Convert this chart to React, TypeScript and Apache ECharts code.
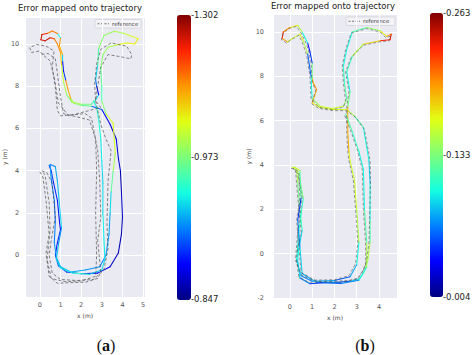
import React, { useEffect, useRef } from 'react';
import * as echarts from 'echarts';

const titleText = 'Error mapped onto trajectory';
const legendText = 'reference';
const xName = 'x (m)';
const yName = 'y (m)';
const panelLetters = ['a', 'b'];
const cbTicksA = ['-1.302', '-0.973', '-0.847'];
const cbTicksB = ['-0.263', '-0.133', '-0.004'];
const errRangeA = [0.847, 1.302];
const errRangeB = [0.004, 0.263];
const xRangeA = [-0.71, 5.09];
const yRangeA = [-1.98, 11.28];
const xRangeB = [-0.76, 4.81];
const yRangeB = [-2.05, 10.81];

// reference trajectory, panel (a)
const refA = [
  [0.0, 3.95], [0.15, 3.7], [0.3, 2.6], [0.45, 1.0], [0.3, 0.1], [0.45, -1.0], [0.85, -1.33], [1.5, -1.3],
  [2.2, -1.28], [2.8, -1.1], [2.95, -0.8], [2.8, 0.7], [2.95, 1.8], [2.9, 3.5], [2.8, 4.95], [2.5, 6.5],
  [2.2, 6.7], [1.6, 6.65], [1.0, 6.6], [0.85, 6.85], [0.75, 7.95], [0.6, 8.9], [0.69, 9.67], [0.3, 9.9],
  [-0.17, 9.98], [-0.49, 9.83], [-0.4, 9.6], [-0.01, 9.67], [0.14, 9.5], [0.5, 9.2], [0.7, 8.4], [0.9, 7.2],
  [1.4, 6.6], [2.2, 6.8], [2.95, 7.0], [2.7, 7.3], [2.65, 8.1], [2.75, 9.05], [2.95, 9.75], [3.45, 10.05],
  [4.2, 9.9], [4.45, 9.5], [4.4, 9.3], [3.9, 9.4], [3.3, 9.5], [2.95, 8.9], [2.8, 8.0], [2.7, 7.3],
  [2.95, 6.2], [3.2, 5.5], [3.45, 4.95], [3.3, 3.5], [3.25, 1.5], [3.3, 0.3], [3.1, -0.7], [2.6, -1.15],
  [1.8, -1.2], [1.0, -1.15], [0.6, -0.85], [0.45, 0.0], [0.6, 1.0], [0.75, 1.8], [0.6, 3.4], [0.35, 3.9],
  [0.1, 4.0], [0.25, 3.8], [0.45, 2.5], [0.5, 1.2], [0.35, -0.2], [0.55, -1.1], [1.2, -1.25], [2.0, -1.22],
  [2.7, -1.0], [2.75, 0.0], [2.7, 2.0], [2.75, 4.0], [2.7, 5.5], [2.4, 6.4], [1.8, 6.55], [1.15, 6.7],
  [1.0, 7.5], [0.85, 8.6], [0.75, 9.3], [0.4, 9.55], [0.0, 9.5]
];

// estimated trajectory, panel (a): x, y, error
const estA = [
  [0.45, 4.25, 0.93], [0.55, 4.0, 0.93], [0.65, 3.5, 0.92], [0.85, 2.6, 0.91], [0.95, 1.6, 0.9], [1.0, 1.2, 0.92],
  [0.85, 0.6, 0.91], [0.75, 0.0, 0.93], [0.9, -0.5, 0.94], [1.3, -0.8, 0.92], [2.0, -0.88, 0.91], [2.8, -0.85, 0.9],
  [3.4, -0.55, 0.88], [3.8, 0.1, 0.87], [3.95, 1.0, 0.87], [4.0, 1.8, 0.88], [3.95, 3.0, 0.87], [3.9, 4.0, 0.88],
  [3.8, 4.6, 0.89], [3.7, 5.5, 0.89], [3.4, 6.2, 0.9], [3.0, 6.9, 0.95], [2.5, 7.05, 1.06], [2.0, 7.1, 1.08],
  [1.65, 7.2, 1.1], [1.5, 7.4, 1.18], [1.35, 7.9, 1.19], [1.25, 8.3, 0.93], [1.15, 8.7, 0.91], [1.1, 9.2, 1.0],
  [1.1, 9.5, 1.18], [0.95, 9.9, 1.19], [1.0, 10.3, 1.02], [0.85, 10.5, 1.2], [0.6, 10.62, 1.2], [0.35, 10.5, 1.25],
  [0.1, 10.45, 1.27], [0.05, 10.2, 1.26], [0.25, 10.15, 1.27], [0.5, 10.3, 1.24], [0.7, 10.25, 1.2], [0.85, 10.0, 1.19],
  [1.0, 9.6, 1.17], [1.05, 9.0, 1.12], [1.15, 8.2, 1.1], [1.3, 7.6, 1.08], [1.55, 7.25, 1.1], [2.0, 7.15, 1.07],
  [2.5, 7.15, 1.05], [2.7, 7.35, 1.0], [2.85, 7.6, 0.9], [2.75, 8.0, 0.95], [2.7, 8.3, 1.0], [2.8, 9.0, 1.05],
  [2.85, 9.8, 1.08], [3.1, 10.4, 1.09], [3.6, 10.6, 1.1], [4.1, 10.5, 1.12], [4.5, 10.35, 1.13], [4.75, 10.25, 1.14],
  [4.6, 10.0, 1.14], [4.2, 10.05, 1.13], [3.7, 9.95, 1.1], [3.3, 9.85, 1.09], [3.05, 9.5, 1.08], [2.95, 8.8, 1.06],
  [3.0, 8.0, 1.04], [3.0, 7.3, 1.08], [3.2, 6.7, 1.12], [3.55, 6.25, 1.13], [3.6, 5.5, 1.12], [3.65, 4.8, 1.1],
  [3.55, 4.0, 1.06], [3.45, 3.0, 1.0], [3.4, 2.0, 0.98], [3.35, 1.0, 0.97], [3.2, 0.0, 0.96], [2.9, -0.55, 0.97],
  [2.2, -0.7, 0.98], [1.5, -0.8, 0.99], [1.0, -0.55, 0.98], [0.8, -0.1, 0.97], [0.7, 0.6, 0.96], [0.75, 1.6, 0.95],
  [0.7, 2.6, 0.96], [0.55, 3.6, 0.97], [0.5, 4.3, 0.96], [0.75, 4.2, 0.98], [0.85, 3.5, 0.99], [0.95, 2.4, 1.0],
  [1.05, 1.3, 0.97], [0.9, 0.5, 0.99], [0.8, -0.2, 1.0], [1.0, -0.6, 1.01], [1.6, -0.85, 1.03], [2.4, -0.9, 0.99],
  [3.0, -0.7, 1.0], [3.15, -0.2, 1.01], [3.1, 0.8, 1.01], [3.05, 2.0, 1.0], [3.05, 3.4, 1.0], [3.0, 4.5, 1.01],
  [2.95, 5.5, 1.02], [2.85, 6.4, 1.03], [2.75, 7.0, 1.02], [2.6, 7.3, 1.01]
];

// reference trajectory, panel (b)
const refB = [
  [0.05, 3.85], [0.25, 3.8], [0.3, 3.15], [0.4, 2.0], [0.5, 1.0], [0.35, 0.25], [0.3, -0.3], [0.4, -1.05],
  [0.85, -1.3], [1.5, -1.28], [2.1, -1.25], [2.7, -1.2], [3.05, -1.1], [3.25, -0.85], [3.45, -0.3], [3.55, 0.5],
  [3.58, 1.5], [3.62, 3.2], [3.6, 4.2], [3.35, 5.6], [2.95, 6.15], [2.55, 6.45], [1.9, 6.45], [1.3, 6.55],
  [0.98, 6.75], [1.15, 7.35], [1.02, 7.7], [0.98, 7.95], [0.95, 8.6], [0.85, 9.1], [0.75, 9.45], [0.5, 9.95],
  [0.3, 10.25], [-0.05, 10.15], [-0.3, 9.95], [-0.38, 9.65], [-0.15, 9.5], [0.05, 9.65], [0.4, 9.85], [0.55, 9.55],
  [0.75, 8.95], [0.9, 8.0], [0.95, 7.0], [1.3, 6.6], [1.9, 6.5], [2.4, 6.6], [2.5, 6.9], [2.4, 7.7],
  [2.35, 8.45], [2.5, 9.2], [2.75, 9.95], [3.45, 10.15], [4.05, 10.0], [4.3, 9.75], [4.5, 9.8], [4.45, 9.6],
  [4.0, 9.55], [3.3, 9.4], [2.75, 8.85], [2.5, 8.2], [2.65, 7.3], [2.55, 6.6], [2.55, 5.5], [2.6, 4.6],
  [2.65, 4.2], [2.85, 3.3], [2.95, 2.0], [3.05, 0.5], [2.95, -0.45], [2.65, -1.0], [2.0, -1.18], [1.0, -1.2],
  [0.5, -0.95], [0.25, -0.3], [0.35, 1.0], [0.55, 2.5], [0.35, 3.6], [0.15, 3.85], [0.4, 3.7], [0.45, 2.5],
  [0.3, 1.5], [0.4, 0.3], [0.5, -0.85], [1.2, -1.25], [2.3, -1.3], [3.05, -1.15], [3.4, -0.55], [3.4, 0.5],
  [3.3, 2.0], [3.25, 3.8], [3.05, 4.6], [2.75, 5.5], [2.45, 6.25]
];

// estimated trajectory, panel (b): x, y, error
const estB = [
  [0.1, 3.9, 0.16], [0.3, 3.85, 0.15], [0.35, 3.2, 0.13], [0.45, 1.95, 0.11], [0.55, 1.05, 0.09], [0.4, 0.2, 0.1],
  [0.35, -0.3, 0.09], [0.45, -1.1, 0.07], [0.9, -1.36, 0.05], [1.5, -1.32, 0.08], [2.1, -1.3, 0.06], [2.7, -1.25, 0.09],
  [3.1, -1.15, 0.11], [3.3, -0.9, 0.14], [3.5, -0.3, 0.15], [3.6, 0.5, 0.12], [3.6, 1.5, 0.1], [3.6, 3.2, 0.09],
  [3.55, 4.2, 0.1], [3.3, 5.7, 0.12], [2.9, 6.2, 0.15], [2.55, 6.5, 0.16], [1.9, 6.5, 0.16], [1.35, 6.6, 0.17],
  [1.0, 6.8, 0.19], [1.2, 7.4, 0.2], [1.05, 7.7, 0.19], [1.0, 7.9, 0.13], [1.0, 8.6, 0.05], [0.9, 9.1, 0.04],
  [0.8, 9.5, 0.1], [0.55, 10.0, 0.15], [0.35, 10.3, 0.17], [0.0, 10.2, 0.2], [-0.3, 10.0, 0.23], [-0.35, 9.7, 0.2],
  [-0.1, 9.55, 0.16], [0.1, 9.7, 0.16], [0.45, 9.9, 0.17], [0.6, 9.6, 0.15], [0.8, 9.0, 0.06], [0.95, 8.0, 0.1],
  [1.0, 7.0, 0.14], [1.35, 6.65, 0.16], [1.9, 6.55, 0.16], [2.4, 6.65, 0.14], [2.55, 6.95, 0.12], [2.45, 7.7, 0.11],
  [2.4, 8.45, 0.1], [2.55, 9.2, 0.1], [2.8, 10.0, 0.12], [3.45, 10.2, 0.14], [4.05, 10.05, 0.17], [4.35, 9.8, 0.2],
  [4.55, 9.9, 0.24], [4.5, 9.65, 0.23], [4.05, 9.6, 0.18], [3.3, 9.45, 0.15], [2.8, 8.9, 0.11], [2.55, 8.2, 0.1],
  [2.7, 7.3, 0.13], [2.6, 6.6, 0.19], [2.6, 5.5, 0.19], [2.65, 4.6, 0.17], [2.7, 4.2, 0.16], [2.9, 3.3, 0.16],
  [3.0, 2.0, 0.15], [3.1, 0.5, 0.1], [3.0, -0.5, 0.08], [2.7, -1.05, 0.06], [2.0, -1.22, 0.08], [1.0, -1.25, 0.07],
  [0.5, -1.0, 0.09], [0.3, -0.3, 0.1], [0.4, 1.0, 0.11], [0.6, 2.5, 0.13], [0.4, 3.6, 0.15], [0.2, 3.9, 0.16],
  [0.45, 3.75, 0.12], [0.5, 2.5, 0.05], [0.35, 1.5, 0.07], [0.45, 0.3, 0.09], [0.55, -0.9, 0.08], [1.2, -1.3, 0.06],
  [2.3, -1.35, 0.07], [3.1, -1.2, 0.1], [3.45, -0.6, 0.15], [3.45, 0.5, 0.12], [3.35, 2.0, 0.1], [3.3, 3.8, 0.1],
  [3.1, 4.6, 0.11], [2.8, 5.5, 0.12], [2.5, 6.3, 0.14]
];

const jet = ['#000080', '#0000ff', '#0080ff', '#14ffe2', '#7cff7a', '#e2ff14', '#ff9700', '#ff2100', '#800000'];

const FONT = 'DejaVu Sans';

function segRender(arr: number[][]) {
  return (params: any, api: any) => {
    const i = params.dataIndex;
    if (i >= arr.length - 1) return { type: 'group', children: [] };
    const a = api.coord([arr[i][0], arr[i][1]]);
    const b = api.coord([arr[i + 1][0], arr[i + 1][1]]);
    return {
      type: 'line',
      shape: { x1: a[0], y1: a[1], x2: b[0], y2: b[1] },
      style: { stroke: api.visual('color'), lineWidth: 1.05, lineCap: 'round' }
    };
  };
}

function intLabel(v: number) {
  return Math.abs(v - Math.round(v)) < 1e-6 ? String(Math.round(v)) : '';
}

function makeX(gridIndex: number, range: number[], gap: number) {
  return {
    type: 'value', gridIndex, min: range[0], max: range[1], splitNumber: 5, minInterval: 1, maxInterval: 1,
    axisLine: { show: false }, axisTick: { show: false },
    splitLine: { show: true, lineStyle: { color: '#ffffff', width: 1 } },
    axisLabel: { fontSize: 6.5, color: '#555', margin: 4, fontFamily: FONT, formatter: intLabel },
    name: xName, nameLocation: 'middle', nameGap: gap,
    nameTextStyle: { fontSize: 6, color: '#444', fontFamily: FONT }
  };
}

function makeY(gridIndex: number, range: number[], gap: number, margin: number) {
  return {
    type: 'value', gridIndex, min: range[0], max: range[1], splitNumber: 7, minInterval: 2, maxInterval: 2,
    axisLine: { show: false }, axisTick: { show: false },
    splitLine: { show: true, lineStyle: { color: '#ffffff', width: 1 } },
    axisLabel: { fontSize: 6.5, color: '#555', margin, fontFamily: FONT, formatter: intLabel },
    name: yName, nameLocation: 'middle', nameGap: gap,
    nameTextStyle: { fontSize: 6, color: '#444', fontFamily: FONT }
  };
}

function cbLabels(ticks: string[], x: number, ys: number[]) {
  return ticks.map((t, k) => ({
    type: 'text', x, y: ys[k],
    style: { text: t, fontSize: 8.5, fill: '#222', fontFamily: FONT, textAlign: 'left', textVerticalAlign: 'middle' }
  }));
}

function legendBox(x: number, y: number, w: number) {
  return [
    { type: 'rect', shape: { x, y, width: w, height: 8.5, r: 1.5 }, style: { fill: 'rgba(244,244,248,0.9)', stroke: '#cfcfd6', lineWidth: 0.7 } },
    { type: 'line', shape: { x1: x + 2.5, y1: y + 4.25, x2: x + 14, y2: y + 4.25 }, style: { stroke: '#666', lineWidth: 0.9, lineDash: [2, 1.5] } },
    { type: 'text', x: x + 17, y: y + 4.4, style: { text: legendText, fontSize: 5.5, fill: '#444', fontFamily: FONT, textVerticalAlign: 'middle' } }
  ];
}

function panelLabel(letter: string, x: number, y: number) {
  return {
    type: 'text', x, y,
    style: {
      text: '{p|(}{b|' + letter + '}{p|)}', textAlign: 'center', textVerticalAlign: 'middle',
      rich: {
        p: { fontSize: 16, fontFamily: 'Liberation Serif', fill: '#111' },
        b: { fontSize: 16, fontFamily: 'Liberation Serif', fontWeight: 'bold', fill: '#111' }
      }
    }
  };
}

export default function App() {
  const ref = useRef<HTMLDivElement>(null);
  useEffect(() => {
    document.body.style.margin = '0';
    if (!ref.current) return;
    const chart = echarts.init(ref.current, undefined, { renderer: 'svg' });
    chart.setOption({
      animation: false,
      backgroundColor: '#ffffff',
      grid: [
        { left: 22, top: 17, width: 123, height: 280, show: true, backgroundColor: '#eaeaf2', borderWidth: 0 },
        { left: 273, top: 14, width: 124, height: 285, show: true, backgroundColor: '#eaeaf2', borderWidth: 0 }
      ],
      xAxis: [makeX(0, xRangeA, 11), makeX(1, xRangeB, 11)],
      yAxis: [makeY(0, yRangeA, 18, 6), makeY(1, yRangeB, 21, 9)],
      visualMap: [
        {
          type: 'continuous', seriesIndex: 0, dimension: 2, min: errRangeA[0], max: errRangeA[1],
          inRange: { color: jet }, left: 177, top: 15, itemWidth: 14, itemHeight: 285,
          calculable: false, padding: 0, hoverLink: false, orient: 'vertical', showLabel: false
        },
        {
          type: 'continuous', seriesIndex: 2, dimension: 2, min: errRangeB[0], max: errRangeB[1],
          inRange: { color: jet }, left: 430, top: 13, itemWidth: 13, itemHeight: 284,
          calculable: false, padding: 0, hoverLink: false, orient: 'vertical', showLabel: false
        }
      ],
      series: [
        { type: 'custom', xAxisIndex: 0, yAxisIndex: 0, data: estA, encode: { x: 0, y: 1 }, renderItem: segRender(estA), clip: true, silent: true, z: 2 },
        { type: 'line', name: legendText, xAxisIndex: 0, yAxisIndex: 0, data: refA, symbol: 'none', silent: true, z: 3,
          lineStyle: { color: '#4a4a4a', width: 0.9, type: [3, 2], opacity: 0.75 } },
        { type: 'custom', xAxisIndex: 1, yAxisIndex: 1, data: estB, encode: { x: 0, y: 1 }, renderItem: segRender(estB), clip: true, silent: true, z: 2 },
        { type: 'line', name: legendText, xAxisIndex: 1, yAxisIndex: 1, data: refB, symbol: 'none', silent: true, z: 3,
          lineStyle: { color: '#4a4a4a', width: 0.8, type: [3, 2], opacity: 0.7 } }
      ],
      graphic: [
        { type: 'text', x: 80, y: 8, style: { text: titleText, fontSize: 8.5, fill: '#222', fontFamily: FONT, textAlign: 'center', textVerticalAlign: 'middle' } },
        { type: 'text', x: 333, y: 6, style: { text: titleText, fontSize: 8.5, fill: '#222', fontFamily: FONT, textAlign: 'center', textVerticalAlign: 'middle' } },
        ...legendBox(95, 19.5, 46),
        ...legendBox(346, 17, 49),
        ...cbLabels(cbTicksA, 191, [15, 157, 299]),
        ...cbLabels(cbTicksB, 443, [13, 155, 297]),
        panelLabel(panelLetters[0], 106, 345),
        panelLabel(panelLetters[1], 365, 345)
      ]
    });
    return () => chart.dispose();
  }, []);
  return <div ref={ref} style={{ width: 474, height: 355 }} />;
}
